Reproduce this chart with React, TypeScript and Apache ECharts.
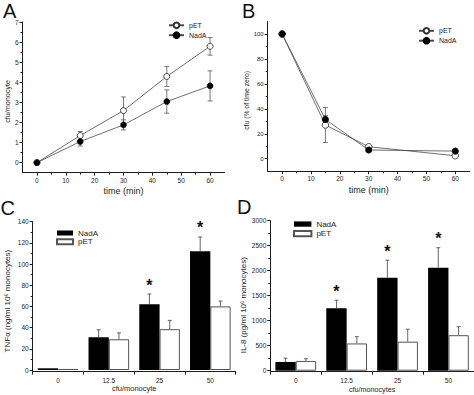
import React, { useEffect, useRef } from 'react';
import * as echarts from 'echarts';

// ---------- Panel A: cfu/monocyte over time ----------
const timeA = [0, 15, 30, 45, 60];
const aPET = [0, 1.35, 2.59, 4.29, 5.79];
const aPETErr = [0, 0.2, 0.68, 0.5, 0.44];
const aNadA = [0, 1.05, 1.88, 3.04, 3.82];
const aNadAErr = [0, 0.22, 0.25, 0.58, 0.75];
const timeTicks = [0, 10, 20, 30, 40, 50, 60];
const timeMinor = [5, 15, 25, 35, 45, 55];
const aYTicks = [0, 1, 2, 3, 4, 5, 6, 7];
const aYMinor = [0.5, 1.5, 2.5, 3.5, 4.5, 5.5, 6.5];

// ---------- Panel B: cfu (% of time zero) ----------
const timeB = [0, 15, 30, 60];
const bPET = [100, 27, 9.6, 2.4];
const bPETErr = [0, 14, 1.5, 1];
const bNadA = [100, 31.5, 7, 6.1];
const bNadAErr = [0, 3, 1.5, 1];
const bYTicks = [0, 20, 40, 60, 80, 100];
const bYMinor = [10, 30, 50, 70, 90];

// ---------- Panel C: TNFα ----------
const dosesC = ['0', '12.5', '25', '50'];
const cNadA = [1.6, 31, 62, 112];
const cNadAErr = [0, 7, 9.7, 13.5];
const cPET = [1, 29, 38.5, 60];
const cPETErr = [0, 6, 8.3, 5];
const cSignificant = [false, false, true, true];
const cYTicks = [0, 20, 40, 60, 80, 100, 120, 140];
const cYMinor = [10, 30, 50, 70, 90, 110, 130];

// ---------- Panel D: IL-8 ----------
const dosesD = ['0', '12.5', '25', '50'];
const dNadA = [175, 1250, 1860, 2060];
const dNadAErr = [75, 160, 350, 400];
const dPET = [195, 545, 580, 710];
const dPETErr = [45, 135, 250, 170];
const dSignificant = [false, true, true, true];
const dYTicks = [0, 500, 1000, 1500, 2000, 2500, 3000];
const dYMinor = [250, 750, 1250, 1750, 2250, 2750];

const FONT = '"Liberation Sans", Arial, sans-serif';
const INK = '#1c1c1c';
const ERR = '#555555';

const plain = (v: number) => String(v);

function mainAxis(gridIndex: number, min: number, max: number, ticks: number[], extra: any = {}) {
  return {
    type: 'value',
    gridIndex,
    min,
    max,
    axisLine: { show: true, onZero: false, lineStyle: { color: INK, width: 1 } },
    axisTick: { show: true, inside: false, length: 3, customValues: ticks, lineStyle: { color: INK, width: 1 } },
    axisLabel: { show: true, customValues: ticks, fontSize: 6.5, color: INK, fontFamily: FONT, margin: 4, formatter: plain },
    splitLine: { show: false },
    nameTextStyle: { color: INK, fontFamily: FONT },
    ...extra,
  };
}

function minorAxis(gridIndex: number, min: number, max: number, ticks: number[], position: string) {
  return {
    type: 'value',
    gridIndex,
    min,
    max,
    position,
    axisLine: { show: false, onZero: false },
    axisTick: { show: true, inside: false, length: 2, customValues: ticks, lineStyle: { color: INK, width: 1 } },
    axisLabel: { show: false },
    splitLine: { show: false },
  };
}

function catAxis(gridIndex: number, data: string[], name: string, nameGap: number, nameSize: number) {
  return {
    type: 'category',
    gridIndex,
    data,
    position: 'bottom',
    boundaryGap: true,
    axisLine: { show: true, onZero: false, lineStyle: { color: INK, width: 1 } },
    axisTick: { show: true, length: 3, lineStyle: { color: INK, width: 1 } },
    axisLabel: { fontSize: 6.5, color: INK, fontFamily: FONT, margin: 5 },
    splitLine: { show: false },
    name,
    nameLocation: 'middle',
    nameGap,
    nameTextStyle: { fontSize: nameSize, color: INK, fontFamily: FONT },
  };
}

const symErr = (params: any, api: any) => {
  const x = api.value(0);
  const y = api.value(1);
  const e = api.value(2);
  if (!e) return { type: 'group', children: [] };
  const t = api.coord([x, y + e]);
  const b = api.coord([x, y - e]);
  const hw = 2.5;
  const st = { stroke: ERR, lineWidth: 0.8 };
  return {
    type: 'group',
    children: [
      { type: 'line', shape: { x1: t[0], y1: t[1], x2: b[0], y2: b[1] }, style: st },
      { type: 'line', shape: { x1: t[0] - hw, y1: t[1], x2: t[0] + hw, y2: t[1] }, style: st },
      { type: 'line', shape: { x1: b[0] - hw, y1: b[1], x2: b[0] + hw, y2: b[1] }, style: st },
    ],
  };
};

const upperErr = (side: number) => (params: any, api: any) => {
  const x = api.value(0);
  const y = api.value(1);
  const e = api.value(2);
  if (!e) return { type: 'group', children: [] };
  const band = api.size([1, 0])[0];
  const dx = side * band * 0.2;
  const p0 = api.coord([x, y]);
  const p1 = api.coord([x, y + e]);
  const cx = p0[0] + dx;
  const hw = 2;
  const st = { stroke: ERR, lineWidth: 0.9 };
  return {
    type: 'group',
    children: [
      { type: 'line', shape: { x1: cx, y1: p0[1], x2: cx, y2: p1[1] }, style: st },
      { type: 'line', shape: { x1: cx - hw, y1: p1[1], x2: cx + hw, y2: p1[1] }, style: st },
    ],
  };
};

const starItem = (params: any, api: any) => {
  const p = api.coord([api.value(0), api.value(1)]);
  const band = api.size([1, 0])[0];
  return {
    type: 'text',
    x: p[0] - band * 0.2,
    y: p[1] - 9,
    style: { text: '*', fontSize: 16, fontWeight: 'bold', fontFamily: FONT, fill: '#111', align: 'center', verticalAlign: 'middle' },
  };
};

const letter = (text: string, x: number, y: number) => ({
  type: 'text',
  x,
  y,
  style: { text, fontSize: 20, lineHeight: 16, fontFamily: FONT, fill: '#111', verticalAlign: 'top' },
});

export default function App() {
  const ref = useRef<HTMLDivElement>(null);

  useEffect(() => {
    if (!ref.current) return;
    const chart = echarts.init(ref.current, undefined, { renderer: 'svg' });

    const lineCommon = { symbol: 'circle', symbolSize: 6, lineStyle: { color: '#4a4a4a', width: 0.8 }, z: 3 };
    const pETStyle = { color: '#ffffff', borderColor: '#333333', borderWidth: 0.9 };
    const nadaStyle = { color: '#000000', borderColor: '#000000', borderWidth: 0.5 };
    const lineLegend = {
      orient: 'vertical', padding: 0, itemWidth: 15, itemHeight: 7, itemGap: 2.3, selectedMode: false,
      textStyle: { fontSize: 7, color: INK, fontFamily: FONT, lineHeight: 7 },
    };
    const barLegend = {
      orient: 'vertical', padding: 0, itemGap: 0, icon: 'rect', selectedMode: false,
      formatter: (n: string) => n.replace(' bar', ''),
    };

    const option: any = {
      animation: false,
      backgroundColor: '#ffffff',
      textStyle: { fontFamily: FONT },
      grid: [
        { left: 22.5, top: 22, width: 202, height: 150.7, containLabel: false, outerBoundsMode: 'none' },
        { left: 267.7, top: 21.5, width: 202, height: 149.7, containLabel: false, outerBoundsMode: 'none' },
        { left: 32.7, top: 221.6, width: 203, height: 150, containLabel: false, outerBoundsMode: 'none' },
        { left: 270.3, top: 220.7, width: 203.6, height: 151, containLabel: false, outerBoundsMode: 'none' },
      ],
      xAxis: [
        mainAxis(0, -5, 65, timeTicks, {
          position: 'bottom', name: 'time (min)', nameLocation: 'middle', nameGap: 14,
          nameTextStyle: { fontSize: 9, color: INK, fontFamily: FONT },
        }),
        minorAxis(0, -5, 65, timeMinor, 'bottom'),
        mainAxis(1, -5, 65, timeTicks, {
          position: 'bottom', name: 'time (min)', nameLocation: 'middle', nameGap: 14,
          nameTextStyle: { fontSize: 9, color: INK, fontFamily: FONT },
        }),
        minorAxis(1, -5, 65, timeMinor, 'bottom'),
        catAxis(2, dosesC, 'cfu/monocyte', 11.5, 7.5),
        catAxis(3, dosesD, 'cfu/monocytes', 14, 7.2),
      ],
      yAxis: [
        mainAxis(0, -0.5, 7, aYTicks, {
          position: 'left', name: 'cfu/monocyte', nameLocation: 'middle', nameGap: 12,
          nameTextStyle: { fontSize: 7.2, color: INK, fontFamily: FONT, padding: [0, 8, 0, 0] },
        }),
        minorAxis(0, -0.5, 7, aYMinor, 'left'),
        mainAxis(1, -10, 110, bYTicks, {
          position: 'left', name: 'cfu (% of time zero)', nameLocation: 'middle', nameGap: 17,
          nameTextStyle: { fontSize: 6.8, color: INK, fontFamily: FONT, padding: [0, 8, 0, 0] },
          axisLabel: { show: true, customValues: bYTicks, fontSize: 6, color: INK, fontFamily: FONT, margin: 4, formatter: plain },
        }),
        minorAxis(1, -10, 110, bYMinor, 'left'),
        mainAxis(2, -1.5, 140, cYTicks, {
          position: 'left', name: 'TNFα (ng/ml 10⁶ monocytes)', nameLocation: 'middle', nameGap: 21,
          nameTextStyle: { fontSize: 8, color: INK, fontFamily: FONT, padding: [0, 9, 0, 0] },
        }),
        minorAxis(2, -1.5, 140, cYMinor, 'left'),
        mainAxis(3, -20, 3000, dYTicks, {
          position: 'left', name: 'IL-8 (pg/ml 10⁶ monocytes)', nameLocation: 'middle', nameGap: 21.5,
          nameTextStyle: { fontSize: 8, color: INK, fontFamily: FONT, padding: [0, 18, 0, 0] },
        }),
        minorAxis(3, -20, 3000, dYMinor, 'left'),
      ],
      legend: [
        { ...lineLegend, data: ['pET', 'NadA'], left: 168, top: 21.5 },
        { ...lineLegend, data: ['pET', 'NadA'], left: 418, top: 27 },
        {
          ...barLegend, data: ['NadA bar', 'pET bar'], left: 56, top: 228.6, itemWidth: 16, itemHeight: 5,
          textStyle: { fontSize: 8, color: INK, fontFamily: FONT, lineHeight: 8.8 },
        },
        {
          ...barLegend, data: ['NadA bar', 'pET bar'], left: 293, top: 219.3, itemWidth: 17.4, itemHeight: 5.3,
          textStyle: { fontSize: 8, color: INK, fontFamily: FONT, lineHeight: 9.5 },
        },
      ],
      graphic: [
        letter('A', 3, 3.2),
        letter('B', 242, 3.2),
        letter('C', 0.5, 199.5),
        letter('D', 237, 198.5),
      ],
      series: [
        // Panel A
        { type: 'custom', name: 'errA-pET', xAxisIndex: 0, yAxisIndex: 0, renderItem: symErr, z: 1,
          data: timeA.map((t, i) => [t, aPET[i], aPETErr[i]]) },
        { type: 'custom', name: 'errA-NadA', xAxisIndex: 0, yAxisIndex: 0, renderItem: symErr, z: 1,
          data: timeA.map((t, i) => [t, aNadA[i], aNadAErr[i]]) },
        { ...lineCommon, type: 'line', name: 'pET', xAxisIndex: 0, yAxisIndex: 0, itemStyle: pETStyle,
          data: timeA.map((t, i) => [t, aPET[i]]) },
        { ...lineCommon, type: 'line', name: 'NadA', xAxisIndex: 0, yAxisIndex: 0, itemStyle: nadaStyle,
          data: timeA.map((t, i) => [t, aNadA[i]]) },
        // Panel B
        { type: 'custom', name: 'errB-pET', xAxisIndex: 2, yAxisIndex: 2, renderItem: symErr, z: 1,
          data: timeB.map((t, i) => [t, bPET[i], bPETErr[i]]) },
        { type: 'custom', name: 'errB-NadA', xAxisIndex: 2, yAxisIndex: 2, renderItem: symErr, z: 1,
          data: timeB.map((t, i) => [t, bNadA[i], bNadAErr[i]]) },
        { ...lineCommon, type: 'line', name: 'pET', xAxisIndex: 2, yAxisIndex: 2, itemStyle: pETStyle, symbolSize: 6.5,
          data: timeB.map((t, i) => [t, bPET[i]]) },
        { ...lineCommon, type: 'line', name: 'NadA', xAxisIndex: 2, yAxisIndex: 2, itemStyle: nadaStyle, symbolSize: 6.5,
          data: timeB.map((t, i) => [t, bNadA[i]]) },
        // Panel C
        { type: 'bar', name: 'NadA bar', xAxisIndex: 4, yAxisIndex: 4, data: cNadA, barGap: '0%', barCategoryGap: '20%',
          itemStyle: { color: '#000000' } },
        { type: 'bar', name: 'pET bar', xAxisIndex: 4, yAxisIndex: 4, data: cPET, barGap: '0%', barCategoryGap: '20%',
          itemStyle: { color: '#ffffff', borderColor: '#555555', borderWidth: 1 } },
        { type: 'custom', name: 'errC-NadA', xAxisIndex: 4, yAxisIndex: 4, renderItem: upperErr(-1), z: 3,
          data: dosesC.map((d, i) => [i, cNadA[i], cNadAErr[i]]) },
        { type: 'custom', name: 'errC-pET', xAxisIndex: 4, yAxisIndex: 4, renderItem: upperErr(1), z: 3,
          data: dosesC.map((d, i) => [i, cPET[i], cPETErr[i]]) },
        { type: 'custom', name: 'starsC', xAxisIndex: 4, yAxisIndex: 4, renderItem: starItem, z: 4,
          data: dosesC.map((d, i) => (cSignificant[i] ? [i, cNadA[i] + cNadAErr[i]] : null)).filter((r) => r !== null) },
        // Panel D
        { type: 'bar', name: 'NadA bar', xAxisIndex: 5, yAxisIndex: 6, data: dNadA, barGap: '0%', barCategoryGap: '20%',
          itemStyle: { color: '#000000' } },
        { type: 'bar', name: 'pET bar', xAxisIndex: 5, yAxisIndex: 6, data: dPET, barGap: '0%', barCategoryGap: '20%',
          itemStyle: { color: '#ffffff', borderColor: '#555555', borderWidth: 1 } },
        { type: 'custom', name: 'errD-NadA', xAxisIndex: 5, yAxisIndex: 6, renderItem: upperErr(-1), z: 3,
          data: dosesD.map((d, i) => [i, dNadA[i], dNadAErr[i]]) },
        { type: 'custom', name: 'errD-pET', xAxisIndex: 5, yAxisIndex: 6, renderItem: upperErr(1), z: 3,
          data: dosesD.map((d, i) => [i, dPET[i], dPETErr[i]]) },
        { type: 'custom', name: 'starsD', xAxisIndex: 5, yAxisIndex: 6, renderItem: starItem, z: 4,
          data: dosesD.map((d, i) => (dSignificant[i] ? [i, dNadA[i] + dNadAErr[i]] : null)).filter((r) => r !== null) },
      ],
    };

    chart.setOption(option);
    return () => {
      chart.dispose();
    };
  }, []);

  return (
    <div
      ref={ref}
      style={{ position: 'absolute', left: 0, top: 0, width: 474, height: 395, background: '#fff', opacity: 0.999, willChange: 'opacity' }}
    />
  );
}
